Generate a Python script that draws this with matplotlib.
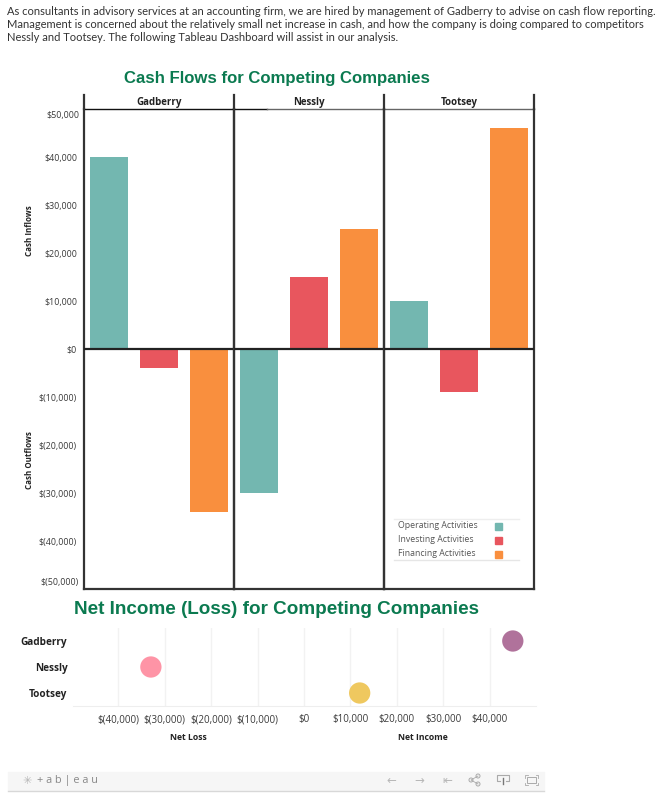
# -*- coding: utf-8 -*-
# cash flow dashboard: bars per company + net income dot strip
import matplotlib
matplotlib.use('Agg')
import matplotlib.pyplot as plt
from matplotlib.patches import Rectangle, Circle

W, H = 663, 800

companies = ['Gadberry', 'Nessly', 'Tootsey']
activities = ['Operating Activities', 'Investing Activities', 'Financing Activities']
colors = ['#73b7b0', '#e8565e', '#f98f3e']

# cash flow values, one list per company (operating, investing, financing)
gadberry_flows = [40000, -4000, -34000]
nessly_flows = [-30000, 15000, 25000]
tootsey_flows = [10000, -9000, 46000]
all_flows = [gadberry_flows, nessly_flows, tootsey_flows]

flow_ticks = [40000, 30000, 20000, 10000, 0, -10000, -20000, -30000, -40000]
flow_labels = ['$40,000', '$30,000', '$20,000', '$10,000', '$0',
               '$(10,000)', '$(20,000)', '$(30,000)', '$(40,000)']

net_income = [45000, -33000, 12000]
net_colors = ['#b0729b', '#fe94a6', '#efc85f']
net_ticks = [-40000, -30000, -20000, -10000, 0, 10000, 20000, 30000, 40000]
net_labels = ['$(40,000)', '$(30,000)', '$(20,000)', '$(10,000)', '$0',
              '$10,000', '$20,000', '$30,000', '$40,000']

intro = ['As consultants in advisory services at an accounting firm, we are hired by management of Gadberry to advise on cash flow reporting.',
         'Management is concerned about the relatively small net increase in cash, and how the company is doing compared to competitors',
         'Nessly and Tootsey. The following Tableau Dashboard will assist in our analysis.']

GREEN = '#0b7a50'
DARK = '#3a3a3a'
LAB = 'Open Sans'


def px_axes(x0, y0, x1, y1):
    # axes from pixel box, y counted from the top
    return fig.add_axes([x0 / W, 1 - y1 / H, (x1 - x0) / W, (y1 - y0) / H])


fig = plt.figure(figsize=(W / 100, H / 100), dpi=100)

# overlay in pixel coordinates for text and toolbar
bg = fig.add_axes([0, 0, 1, 1])
bg.set_xlim(0, W)
bg.set_ylim(H, 0)
bg.axis('off')

for i, line in enumerate(intro):
    bg.text(7, 11.5 + i * 13, line, fontsize=8.0, family='Lato', color='#333333', va='center')

bg.text(276.5, 78.5, 'Cash Flows for Competing Companies', fontsize=12.1, family='Liberation Sans',
        weight='bold', color=GREEN, ha='center', va='center')
bg.text(276.5, 610, 'Net Income (Loss) for Competing Companies', fontsize=13.6, family='Liberation Sans',
        weight='bold', color=GREEN, ha='center', va='center')

# bar panels
edges = [84, 234, 384, 534]
for k, name in enumerate(companies):
    ax = px_axes(edges[k], 109, edges[k + 1], 589)
    ax.bar(range(3), all_flows[k], width=0.76, color=colors, zorder=2)
    ax.set_xlim(-0.5, 2.5)
    ax.set_ylim(-50000, 50000)
    ax.set_xticks([])
    ax.axhline(0, color='#222222', lw=1.6, zorder=3)
    ax.patch.set_alpha(0)
    for s in ['left', 'right', 'bottom']:
        ax.spines[s].set_color('#333333')
        ax.spines[s].set_linewidth(1.6)
    ax.spines['top'].set_visible(False)
    if k == 0:
        ax.set_yticks(flow_ticks)
        ax.set_yticklabels(flow_labels, fontsize=6.4, family=LAB, color=DARK)
        ax.tick_params(axis='y', length=0, pad=5)
    else:
        ax.set_yticks([])
    bg.text((edges[k] + edges[k + 1]) / 2, 103, name, fontsize=7.0, family=LAB, weight='bold',
            color='#222222', ha='center', va='center')
    # header stub above the rule
    bg.plot([edges[k], edges[k]], [95, 109], color='#333333', lw=1.6)
bg.plot([edges[3], edges[3]], [95, 109], color='#333333', lw=1.6)

# header rule, black then grey
bg.plot([84, 267], [109, 109], color='#111111', lw=1.0)
bg.plot([267, 534], [109, 109], color='#666666', lw=1.0)

# end labels are pulled inside the panel in the original
bg.text(79, 115.5, '$50,000', fontsize=6.4, family=LAB, color=DARK, ha='right', va='center')
bg.text(79, 583, '$(50,000)', fontsize=6.4, family=LAB, color=DARK, ha='right', va='center')

bg.text(30, 231, 'Cash Inflows', fontsize=5.8, family=LAB, weight='bold', color='#222222',
        rotation=90, ha='center', va='center')
bg.text(30, 460, 'Cash Outflows', fontsize=5.8, family=LAB, weight='bold', color='#222222',
        rotation=90, ha='center', va='center')

# legend inside the Tootsey panel
bg.plot([394, 519], [519, 519], color='#eeeeee', lw=1, zorder=5)
bg.plot([394, 519], [560, 560], color='#e6e6e6', lw=1, zorder=5)
for i, name in enumerate(activities):
    yy = 526 + i * 14
    bg.text(398, yy, name, fontsize=6.3, family=LAB, color='#555555', va='center', zorder=5)
    bg.add_patch(Rectangle((495, yy - 3.5), 7, 7, color=colors[i], zorder=5))

# net income strip
ax2 = px_axes(73, 628, 536, 706)
x_per_px = 10000 / 46.4
ax2.set_xlim((73 - 304) * x_per_px, (536 - 304) * x_per_px)
ax2.set_ylim(2.5, -0.5)
ax2.patch.set_alpha(0)
ax2.scatter(net_income, range(3), s=235, c=net_colors, linewidths=0, zorder=3)
ax2.set_xticks(net_ticks)
ax2.set_xticklabels(net_labels, fontsize=7.0, family=LAB, color=DARK)
ax2.set_yticks(range(3))
ax2.set_yticklabels(companies, fontsize=7.2, family=LAB, weight='bold', color='#222222')
ax2.tick_params(axis='both', length=0)
ax2.tick_params(axis='x', pad=6)
ax2.tick_params(axis='y', pad=4)
ax2.grid(axis='x', color='#f2f2f2', lw=1)
for s in ['top', 'right', 'left']:
    ax2.spines[s].set_visible(False)
ax2.spines['bottom'].set_color('#eeeeee')

bg.text(188, 737, 'Net Loss', fontsize=6.2, family=LAB, weight='bold', color='#222222', ha='center', va='center')
bg.text(423, 737, 'Net Income', fontsize=6.2, family=LAB, weight='bold', color='#222222', ha='center', va='center')

# tableau toolbar
TB = '#b8b8b8'
bg.add_patch(Rectangle((8, 772), 536, 18, color='#f6f6f6', zorder=1))
bg.plot([8, 544], [790.5, 790.5], color='#d8d8d8', lw=1)
bg.text(27, 780.5, '\u2733', fontsize=8, color='#b5b5b5', ha='center', va='center', family='DejaVu Sans')
bg.text(37, 780.5, '+ a b | e a u', fontsize=7.8, color='#888888', family=LAB, va='center')
for x0, sym in [(391, '\u2190'), (419, '\u2192'), (447, '\u21e4')]:
    bg.text(x0, 780, sym, fontsize=8.5, color=TB, ha='center', va='center', family='DejaVu Sans')
# share icon
for cx, cy in [(471, 780), (478, 776), (478, 784)]:
    bg.add_patch(Circle((cx, cy), 2, fill=False, ec='#aaaaaa', lw=0.7, zorder=3))
bg.plot([478, 471, 478], [776, 780, 784], color='#aaaaaa', lw=0.6)
# download icon
bg.plot([500, 497, 497, 509, 509, 506], [781, 781, 775, 775, 781, 781], color='#aaaaaa', lw=0.8)
bg.plot([503, 503], [778, 784], color='#777777', lw=1.0)
# fullscreen icon
bg.add_patch(Rectangle((527, 777), 9, 6, fill=False, ec='#aaaaaa', lw=0.7, zorder=3))
for x0, dx in [(525, 2.5), (538, -2.5)]:
    for y0, dy in [(775, 2.5), (785, -2.5)]:
        bg.plot([x0, x0, x0 + dx], [y0 + dy, y0, y0], color='#aaaaaa', lw=0.6)

fig.savefig('out.png', dpi=100)
